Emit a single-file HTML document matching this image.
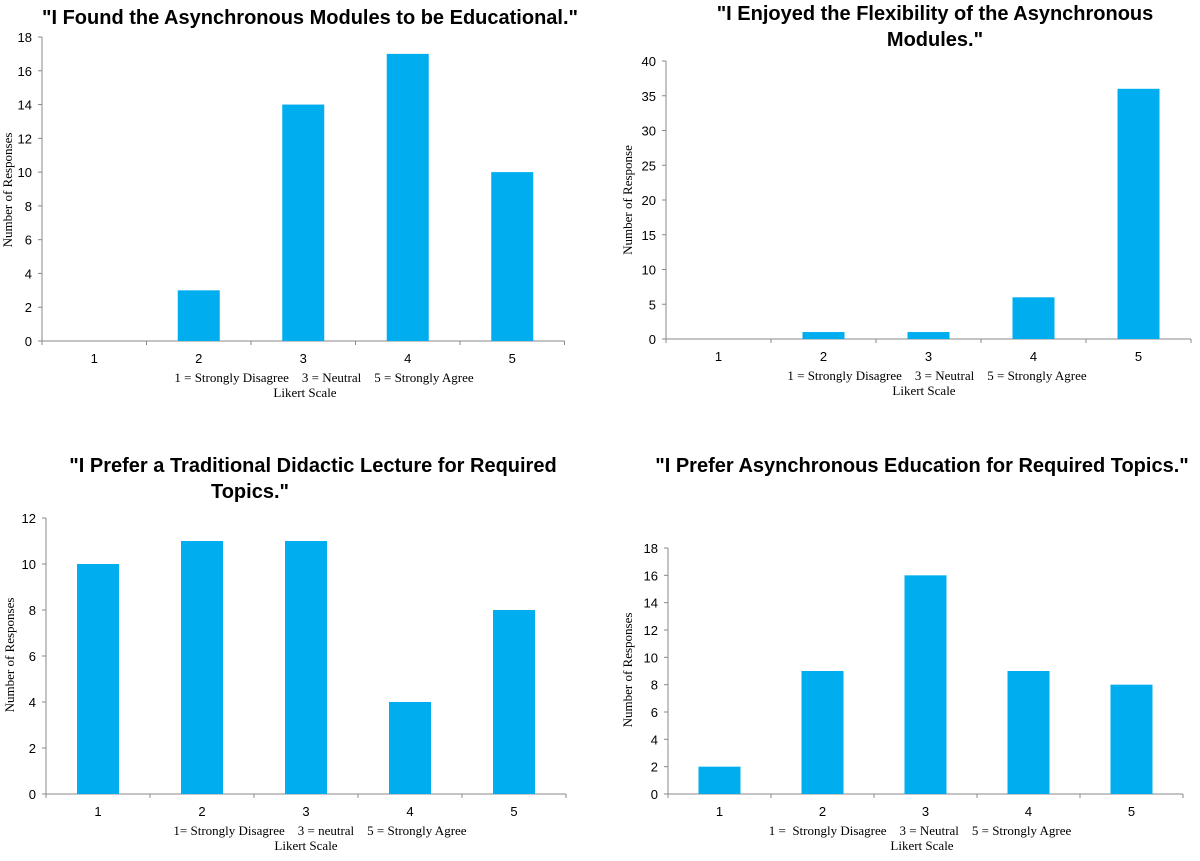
<!DOCTYPE html>
<html><head><meta charset="utf-8"><style>
body{margin:0;background:#fff;width:1200px;height:856px;overflow:hidden}
svg text{fill:#000;white-space:pre}
</style></head><body>
<svg id="s" width="1200" height="856"></svg>
<script>
const categories=["1","2","3","4","5"];
const valsA=[0,3,14,17,10];
const valsB=[0,1,1,6,36];
const valsC=[10,11,11,4,8];
const valsD=[2,9,16,9,8];
const ticksA=[0,2,4,6,8,10,12,14,16,18];
const ticksB=[0,5,10,15,20,25,30,35,40];
const ticksC=[0,2,4,6,8,10,12];
const ticksD=[0,2,4,6,8,10,12,14,16,18];
const NS="http://www.w3.org/2000/svg";
const svg=document.getElementById('s');
function el(t,a,p){const e=document.createElementNS(NS,t);for(const k in a)e.setAttribute(k,a[k]);(p||svg).appendChild(e);return e;}
function chart(o){
 const g=el('g',{});
 
 
 const max=o.ticks[o.ticks.length-1];
 const y=v=>o.y0-(o.y0-o.yTop)*v/max;
 const x=i=>o.x0+o.band*i;
 o.title.forEach((t,i)=>{const e=el('text',{x:t[1],y:t[2],'text-anchor':'middle','font-family':'Liberation Sans, sans-serif','font-weight':'bold','font-size':20},g);e.textContent=t[0];
  
  });
 const ax=el('line',{x1:o.x0,y1:o.yTop,x2:o.x0,y2:o.y0,stroke:'#888','stroke-width':1},g);
 
 
 const xa=el('line',{x1:o.x0,y1:o.y0,x2:x(5),y2:o.y0,stroke:'#888','stroke-width':1},g);
 
 
 o.ticks.forEach(v=>{el('line',{x1:o.x0-4,x2:o.x0,y1:y(v),y2:y(v),stroke:'#888'},g);
  const t=el('text',{x:o.x0-10,y:y(v)+5,'text-anchor':'end','font-family':'Liberation Sans, sans-serif','font-size':13},g);t.textContent=v;
  
  });
 for(let i=0;i<=5;i++)el('line',{x1:x(i),x2:x(i),y1:o.y0,y2:o.y0+4,stroke:'#888'},g);
 o.vals.forEach((v,i)=>{const cx=x(i)+o.band/2;
  if(v>0){const r=el('rect',{x:cx-21,y:y(v),width:42,height:o.y0-y(v),fill:'#00adef'},g);
  
  }
  const t=el('text',{x:cx,y:o.y0+22,'text-anchor':'middle','font-family':'Liberation Sans, sans-serif','font-size':13},g);t.textContent=categories[i];
  
  });
 const sub=el('text',{x:o.subX,y:o.y0+41,'text-anchor':'middle','font-family':'Liberation Serif, serif','font-size':13},g);sub.textContent=o.sub;
 
 
 const lk=el('text',{x:o.lkX,y:o.y0+56,'text-anchor':'middle','font-family':'Liberation Serif, serif','font-size':13},g);lk.textContent='Likert Scale';
 
 
 const yt=el('text',{transform:`translate(${o.ytX},${o.ytY}) rotate(-90)`,'text-anchor':'middle','font-family':'Liberation Serif, serif','font-size':13},g);yt.textContent=o.ytitle;
 
 
}
chart({name:'chart-educational',vals:valsA,ticks:ticksA,x0:42,band:104.5,y0:341,yTop:37,
 title:[['"I Found the Asynchronous Modules to be Educational."',310,24]],
 sub:'1 = Strongly Disagree    3 = Neutral    5 = Strongly Agree',subX:324,lkX:305,ytitle:'Number of Responses',ytX:12,ytY:190});
chart({name:'chart-flexibility',vals:valsB,ticks:ticksB,x0:666,band:105,y0:339,yTop:61,
 title:[['"I Enjoyed the Flexibility of the Asynchronous',935,20],['Modules."',935,46]],
 sub:'1 = Strongly Disagree    3 = Neutral    5 = Strongly Agree',subX:937,lkX:924,ytitle:'Number of Response',ytX:632,ytY:200});
chart({name:'chart-didactic',vals:valsC,ticks:ticksC,x0:46,band:104,y0:794,yTop:518,
 title:[['"I Prefer a Traditional Didactic Lecture for Required',313,472],['Topics."',250,498]],
 sub:'1= Strongly Disagree    3 = neutral    5 = Strongly Agree',subX:320,lkX:306,ytitle:'Number of Responses',ytX:14,ytY:655});
chart({name:'chart-asynchronous-preference',vals:valsD,ticks:ticksD,x0:668,band:103,y0:794,yTop:548,
 title:[['"I Prefer Asynchronous Education for Required Topics."',922,472]],
 sub:'1 =  Strongly Disagree    3 = Neutral    5 = Strongly Agree',subX:920,lkX:922,ytitle:'Number of Responses',ytX:632,ytY:670});
</script>
</body></html>
